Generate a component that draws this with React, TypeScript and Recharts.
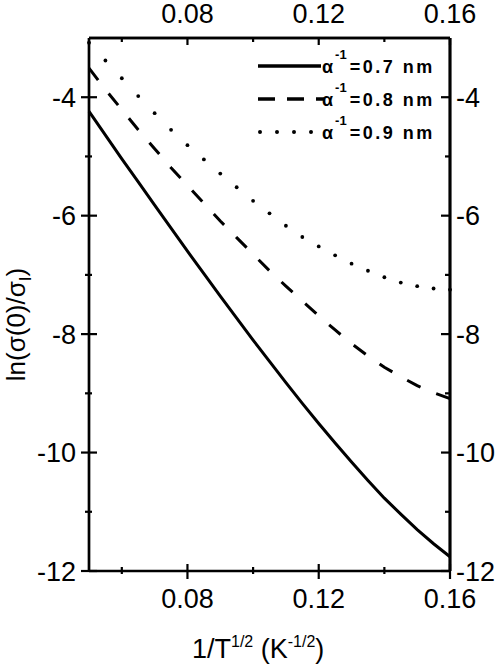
import React from 'react';
import { LineChart, Line, XAxis, YAxis, ReferenceLine } from 'recharts';

const FONT = '"Liberation Sans", Arial, Helvetica, sans-serif';

// 1/T^(1/2) values (K^-1/2)
const X_VALUES = [
  0.05, 0.055, 0.06, 0.065, 0.07, 0.075, 0.08, 0.085, 0.09, 0.095, 0.1, 0.105,
  0.11, 0.115, 0.12, 0.125, 0.13, 0.135, 0.14, 0.145, 0.15, 0.155, 0.16,
];
// ln(sigma(0)/sigma_I) for alpha^-1 = 0.7 nm
const SERIES_07 = [
  -4.24, -4.64, -5.04, -5.43, -5.82, -6.21, -6.6, -6.98, -7.36, -7.73, -8.1, -8.46,
  -8.82, -9.17, -9.51, -9.84, -10.16, -10.47, -10.77, -11.04, -11.3, -11.54, -11.76,
];
// alpha^-1 = 0.8 nm
const SERIES_08 = [
  -3.51, -3.87, -4.21, -4.55, -4.87, -5.19, -5.49, -5.79, -6.09, -6.37, -6.65, -6.93,
  -7.19, -7.44, -7.69, -7.93, -8.16, -8.37, -8.56, -8.72, -8.87, -8.99, -9.09,
];
// alpha^-1 = 0.9 nm
const SERIES_09 = [
  -3.08, -3.38, -3.68, -3.98, -4.27, -4.55, -4.81, -5.05, -5.29, -5.52, -5.75, -5.96,
  -6.17, -6.36, -6.52, -6.67, -6.81, -6.93, -7.04, -7.13, -7.19, -7.23, -7.25,
];

const X_DOMAIN = [0.05, 0.16];
const Y_DOMAIN = [-12, -3];
const X_TICKS = [0.06, 0.08, 0.1, 0.12, 0.14, 0.16];
const X_MAJOR = [0.08, 0.12, 0.16];
const Y_TICKS = [-12, -11, -10, -9, -8, -7, -6, -5, -4];
const Y_MAJOR = [-12, -10, -8, -6, -4];
const LEGEND_VALUES = ['0.7', '0.8', '0.9'];
const LEGEND_DASH = ['', '17 12', '0 17'];

const data = X_VALUES.map((x, i) => ({
  x,
  a: SERIES_07[i],
  b: SERIES_08[i],
  c: SERIES_09[i],
}));

const isIn = (v: number, arr: number[]) => arr.some((a) => Math.abs(a - v) < 1e-9);

const AXIS_W = 2.7;
const TICK_W = 2.2;
const TICK_FS = 27;

const BottomTick = (p: any) => {
  const { x, y, payload } = p;
  const major = isIn(payload.value, X_MAJOR);
  return (
    <g>
      <path d={`M${x},${y - (major ? 7 : 4)}V${y + (major ? 8 : 3)}`} stroke="#000" strokeWidth={TICK_W} fill="none" />
      {major && (
        <text x={x} y={y + 37} textAnchor="middle" fontSize={TICK_FS} fontFamily={FONT} fill="#000">
          {payload.value.toFixed(2)}
        </text>
      )}
    </g>
  );
};

const TopTick = (p: any) => {
  const { x, y, payload } = p;
  const major = isIn(payload.value, X_MAJOR);
  return (
    <g>
      <path d={`M${x},${y}V${y + (major ? 7 : 4)}`} stroke="#000" strokeWidth={TICK_W} fill="none" />
      {major && (
        <text x={x} y={y - 15} textAnchor="middle" fontSize={TICK_FS} fontFamily={FONT} fill="#000">
          {payload.value.toFixed(2)}
        </text>
      )}
    </g>
  );
};

const LeftTick = (p: any) => {
  const { x, y, payload } = p;
  const major = isIn(payload.value, Y_MAJOR);
  return (
    <g>
      <path d={`M${x - (major ? 8 : 4)},${y}H${x + (major ? 8 : 3)}`} stroke="#000" strokeWidth={TICK_W} fill="none" />
      {major && (
        <text x={x - 13} y={y + 9.5} textAnchor="end" fontSize={TICK_FS} fontFamily={FONT} fill="#000">
          {String(payload.value)}
        </text>
      )}
    </g>
  );
};

const RightTick = (p: any) => {
  const { x, y, payload } = p;
  const major = isIn(payload.value, Y_MAJOR);
  return (
    <g>
      <path d={`M${x - (major ? 9 : 5)},${y}H${x}`} stroke="#000" strokeWidth={TICK_W} fill="none" />
      {major && (
        <text x={x + 6} y={y + 9.5} textAnchor="start" fontSize={TICK_FS} fontFamily={FONT} fill="#000">
          {String(payload.value)}
        </text>
      )}
    </g>
  );
};

const XTitle = (props: any) => {
  const vb = props.viewBox || { x: 89, y: 571, width: 361, height: 97 };
  return (
    <text x={vb.x + 103} y={vb.y + 87} fontSize={27} fontFamily={FONT} fill="#000">
      1/T
      <tspan dy={-11} fontSize={16}>1/2</tspan>
      <tspan dy={11}> (K</tspan>
      <tspan dy={-11} fontSize={16}>-1/2</tspan>
      <tspan dy={11}>)</tspan>
    </text>
  );
};

const YTitle = (props: any) => {
  const vb = props.viewBox || { x: 0, y: 38, width: 89, height: 533 };
  const cx = vb.x + 25;
  const cy = vb.y + vb.height / 2 + 20;
  return (
    <text
      x={cx}
      y={cy}
      textAnchor="middle"
      transform={`rotate(-90, ${cx}, ${cy})`}
      fontSize={26}
      fontFamily={FONT}
      fill="#000"
    >
      ln(σ(0)/σ
      <tspan dy={6} fontSize={17}>I</tspan>
      <tspan dy={-6}>)</tspan>
    </text>
  );
};

const LegendBox = () => (
  <svg
    width={200}
    height={100}
    style={{ position: 'absolute', left: 250, top: 45, overflow: 'visible', pointerEvents: 'none' }}
  >
    {LEGEND_VALUES.map((v, i) => {
      const y = 21 + i * 33;
      const dash = LEGEND_DASH[i];
      return (
        <g key={v}>
          {i === 2 ? (
            <line x1={10} x2={64} y1={y} y2={y} stroke="#000" strokeWidth={4} strokeLinecap="round" strokeDasharray={dash} />
          ) : (
            <line x1={8} x2={i === 1 ? 74 : 71} y1={y} y2={y} stroke="#000" strokeWidth={3.5} strokeDasharray={dash || undefined} />
          )}
          <text x={72} y={y + 6.5} fontSize={18} fontWeight="bold" fontFamily={FONT} fill="#000">
            α
            <tspan dx={2} dy={-14} fontSize={13}>-1</tspan>
            <tspan dx={3} dy={14} letterSpacing={2.5}>{`=${v} nm`}</tspan>
          </text>
        </g>
      );
    })}
  </svg>
);

export default function App() {
  return (
    <div style={{ position: 'absolute', left: 0, top: 0, width: 500, height: 668, background: '#fff' }}>
      <LineChart width={500} height={668} data={data} margin={{ top: 0, right: 0, bottom: 0, left: 0 }}>
        <XAxis
          xAxisId="b"
          dataKey="x"
          type="number"
          orientation="bottom"
          domain={X_DOMAIN}
          ticks={X_TICKS}
          interval={0}
          tickSize={0}
          tickMargin={0}
          tickLine={false}
          tick={BottomTick}
          axisLine={{ stroke: '#000', strokeWidth: AXIS_W }}
          height={97}
          label={XTitle}
        />
        <XAxis
          xAxisId="t"
          dataKey="x"
          type="number"
          orientation="top"
          domain={X_DOMAIN}
          ticks={X_TICKS}
          interval={0}
          tickSize={0}
          tickMargin={0}
          tickLine={false}
          tick={TopTick}
          axisLine={{ stroke: '#000', strokeWidth: AXIS_W }}
          height={38}
        />
        <YAxis
          yAxisId="l"
          type="number"
          orientation="left"
          domain={Y_DOMAIN}
          ticks={Y_TICKS}
          interval={0}
          tickSize={0}
          tickMargin={0}
          tickLine={false}
          tick={LeftTick}
          axisLine={{ stroke: '#000', strokeWidth: AXIS_W }}
          width={89}
          label={YTitle}
        />
        <YAxis
          yAxisId="r"
          dataKey="c"
          type="number"
          orientation="right"
          domain={Y_DOMAIN}
          ticks={Y_TICKS}
          interval={0}
          tickSize={0}
          tickMargin={0}
          tickLine={false}
          tick={RightTick}
          axisLine={{ stroke: '#000', strokeWidth: AXIS_W }}
          width={50}
        />
        <ReferenceLine xAxisId="b" yAxisId="l" y={Y_DOMAIN[1]} ifOverflow="visible" stroke="#000" strokeWidth={AXIS_W} />
        <ReferenceLine xAxisId="b" yAxisId="l" x={X_DOMAIN[1]} ifOverflow="visible" stroke="#000" strokeWidth={AXIS_W} />
        <Line
          xAxisId="b"
          yAxisId="l"
          dataKey="a"
          type="linear"
          stroke="#000"
          strokeWidth={3}
          dot={false}
          isAnimationActive={false}
        />
        <Line
          xAxisId="b"
          yAxisId="l"
          dataKey="b"
          type="linear"
          stroke="#000"
          strokeWidth={3}
          strokeDasharray="15 17"
          dot={false}
          isAnimationActive={false}
        />
        <Line
          xAxisId="t"
          yAxisId="r"
          dataKey="c"
          type="linear"
          stroke="none"
          dot={{ r: 1.9, fill: '#000', stroke: 'none' }}
          isAnimationActive={false}
        />
      </LineChart>
      <LegendBox />
    </div>
  );
}
